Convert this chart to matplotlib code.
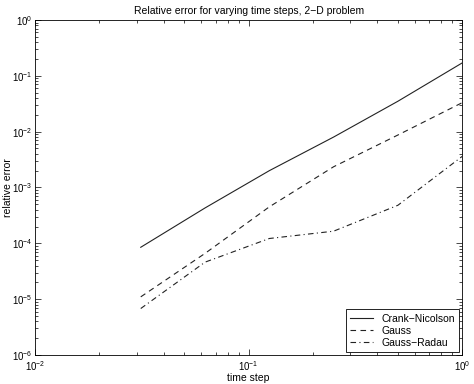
import matplotlib
matplotlib.use("Agg")
import matplotlib.pyplot as plt

plt.rcParams['font.family'] = ['Liberation Sans', 'DejaVu Sans']
plt.rcParams['font.size'] = 7.5

# time steps and relative errors
dt = [1/32, 1/16, 1/8, 1/4, 1/2, 1.0]
crank_nicolson = [8.5e-5, 4.3e-4, 2.0e-3, 8.0e-3, 3.5e-2, 1.7e-1]
gauss = [1.1e-5, 6.6e-5, 4.5e-4, 2.35e-3, 8.7e-3, 3.3e-2]
gauss_radau = [6.8e-6, 4.6e-5, 1.22e-4, 1.65e-4, 4.8e-4, 3.6e-3]

fig = plt.figure(figsize=(4.74, 3.84), dpi=100)
ax = fig.add_axes([0.074, 0.0755, 0.901, 0.8725])

ax.loglog(dt, crank_nicolson, '-', color='#222222', lw=0.8, label='Crank\u2212Nicolson')
ax.loglog(dt, gauss, '--', color='#222222', lw=0.8, dashes=(5, 4), label='Gauss')
ax.loglog(dt, gauss_radau, '-.', color='#222222', lw=0.8, dashes=(5, 3, 1, 3), label='Gauss\u2212Radau')

ax.set_xlim(1e-2, 1)
ax.set_ylim(1e-6, 1)
ax.tick_params(which='both', direction='in', top=True, right=True, width=0.5, labelsize=7)
ax.tick_params(which='major', length=4)
ax.tick_params(axis='y', which='major', pad=2)
ax.tick_params(axis='x', which='major', pad=3)
ax.tick_params(which='minor', length=2)
for s in ax.spines.values():
    s.set_linewidth(0.6)

ax.set_title('Relative error for varying time steps, 2\u2212D problem', fontsize=7.5, pad=4)
ax.set_xlabel('time step', va='center')
ax.set_ylabel('relative error', va='center')
ax.xaxis.set_label_coords(0.5, -0.07)
ax.yaxis.set_label_coords(-0.064, 0.5)

leg = ax.legend(loc='lower right', fancybox=False, framealpha=1, edgecolor='black',
                borderaxespad=0.3, handlelength=2.2, labelspacing=0.2)
leg.get_frame().set_linewidth(0.6)

fig.savefig('out.png', dpi=100)
